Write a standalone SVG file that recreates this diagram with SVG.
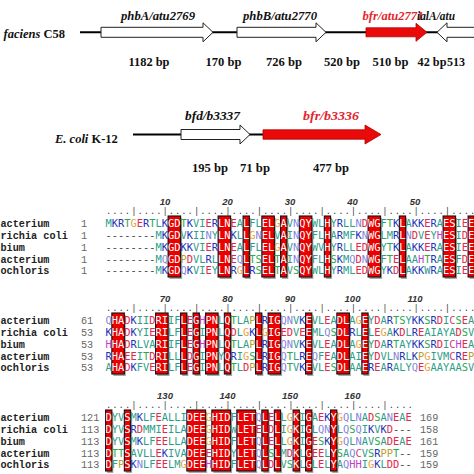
<svg xmlns="http://www.w3.org/2000/svg" width="474" height="474" viewBox="0 0 474 474">
<style>
.gn{font-family:"Liberation Serif",serif;font-weight:bold;font-style:italic;font-size:12px;text-anchor:middle;fill:#111}
.bp{font-family:"Liberation Serif",serif;font-weight:bold;font-size:12px;text-anchor:middle;fill:#111}
.org{font-family:"Liberation Serif",serif;font-weight:bold;font-size:12.5px;fill:#111}
.red{fill:#e3262e}
.ln{stroke:#000;stroke-width:2;fill:none}
.wa{fill:#fff;stroke:#222;stroke-width:1}
.ra{fill:#ea0a0a;stroke:#b00000;stroke-width:0.8}
.nm{font-family:"Liberation Mono",monospace;font-weight:bold;font-size:10.2px;fill:#222}
.nu{font-family:"Liberation Mono",monospace;font-size:10.2px;fill:#666}
.sq{font-family:"DejaVu Sans Mono",monospace;font-size:10.38px;fill:#2e9e88}
.ru{font-family:"DejaVu Sans Mono",monospace;font-size:8px;fill:#333}
.rn{font-family:"Liberation Sans",sans-serif;font-weight:bold;font-style:italic;font-size:9.5px;fill:#333;text-anchor:middle}
.b{fill:#2332b8}.r{fill:#e3284a}.m{fill:#c03ec8}.o{fill:#eaa23c}.y{fill:#b8a030}.v{fill:#8585dd}.g{fill:#2aa84a}.c{fill:#d0407a}.x{fill:#444}.w{fill:#fff}
</style>
<defs>
<g id="bx1">
<rect x="168.1" y="216" width="12.5" height="61"/><rect x="218.1" y="216" width="12.5" height="61"/><rect x="243.1" y="216" width="6.25" height="61"/><rect x="261.85" y="216" width="12.5" height="61"/><rect x="280.6" y="216" width="6.25" height="61"/><rect x="299.35" y="216" width="12.5" height="61"/><rect x="324.35" y="216" width="6.25" height="61"/><rect x="368.1" y="216" width="12.5" height="61"/><rect x="399.35" y="216" width="6.25" height="61"/><rect x="443.1" y="216" width="12.5" height="61"/><rect x="468.1" y="216" width="6.25" height="61"/>
</g>
<g id="bx2">
<rect x="111.85" y="313" width="12.5" height="61"/><rect x="155.6" y="313" width="12.5" height="61"/><rect x="180.6" y="313" width="6.25" height="61"/><rect x="193.1" y="313" width="6.25" height="61"/><rect x="205.6" y="313" width="12.5" height="61"/><rect x="224.35" y="313" width="6.25" height="61"/><rect x="255.6" y="313" width="6.25" height="61"/><rect x="268.1" y="313" width="12.5" height="61"/><rect x="305.6" y="313" width="6.25" height="61"/><rect x="336.85" y="313" width="12.5" height="61"/><rect x="361.85" y="313" width="6.25" height="61"/>
</g>
<g id="bx3">
<rect x="105.6" y="410" width="6.25" height="61"/><rect x="124.35" y="410" width="6.25" height="61"/><rect x="186.85" y="410" width="18.75" height="61"/><rect x="211.85" y="410" width="18.75" height="61"/><rect x="236.85" y="410" width="18.75" height="61"/><rect x="261.85" y="410" width="6.25" height="61"/><rect x="274.35" y="410" width="6.25" height="61"/><rect x="293.1" y="410" width="6.25" height="61"/><rect x="305.6" y="410" width="6.25" height="61"/><rect x="330.6" y="410" width="6.25" height="61"/>
</g>
</defs>
<rect width="474" height="474" fill="#fff"/>

<!-- Gene map: A. tumefaciens -->
<g id="map1">
<line class="ln" x1="80" y1="32.3" x2="474" y2="32.3"/>
<path class="wa" d="M101,27.3H203V22.8L213,32.3L203,41.8V37.3H101Z"/>
<path class="wa" d="M237,27.3H316V22.8L326,32.3L316,41.8V37.3H237Z"/>
<path class="ra" d="M366,27.8H416V23.3L427,32.3L416,41.3V36.8H366Z"/>
<path class="wa" d="M437,32.3L447,22.8V27.3H480V37.3H447V41.8Z"/>
<text class="org" x="65" y="38.3" text-anchor="end"><tspan font-style="italic">faciens</tspan> C58</text>
<text class="gn" x="158" y="19.5" textLength="74" lengthAdjust="spacingAndGlyphs">phbA/atu2769</text>
<text class="gn" x="280" y="19.5" textLength="74" lengthAdjust="spacingAndGlyphs">phbB/atu2770</text>
<text class="gn red" x="393" y="19.5" textLength="61" lengthAdjust="spacingAndGlyphs">bfr/atu2771</text>
<text class="gn" x="436" y="19.5" text-anchor="start" textLength="38" lengthAdjust="spacingAndGlyphs">ialA/atu</text>
<text class="bp" x="149" y="65.5" textLength="41" lengthAdjust="spacingAndGlyphs">1182 bp</text>
<text class="bp" x="223.5" y="65.5" textLength="36" lengthAdjust="spacingAndGlyphs">170 bp</text>
<text class="bp" x="284" y="65.5" textLength="36" lengthAdjust="spacingAndGlyphs">726 bp</text>
<text class="bp" x="342" y="65.5" textLength="36" lengthAdjust="spacingAndGlyphs">520 bp</text>
<text class="bp" x="390.5" y="65.5" textLength="36" lengthAdjust="spacingAndGlyphs">510 bp</text>
<text class="bp" x="432" y="65.5" textLength="29" lengthAdjust="spacingAndGlyphs">42 bp</text>
<text class="bp" x="456" y="65.5" text-anchor="start" textLength="18" lengthAdjust="spacingAndGlyphs">513</text>
</g>

<!-- Gene map: E. coli -->
<g id="map2">
<line class="ln" x1="133" y1="134.5" x2="375" y2="134.5"/>
<path class="wa" d="M181,129.5H240V125L250,134.5L240,144V139.5H181Z"/>
<path class="ra" d="M263,129.8H365V125L381,134.5L365,144V139.2H263Z"/>
<text class="org" x="55" y="143"><tspan font-style="italic">E. coli</tspan> K-12</text>
<text class="gn" x="212.5" y="120" textLength="55" lengthAdjust="spacingAndGlyphs">bfd/b3337</text>
<text class="gn red" x="331" y="120" textLength="56" lengthAdjust="spacingAndGlyphs">bfr/b3336</text>
<text class="bp" x="210" y="171.5" textLength="36" lengthAdjust="spacingAndGlyphs">195 bp</text>
<text class="bp" x="255" y="171.5" textLength="30" lengthAdjust="spacingAndGlyphs">71 bp</text>
<text class="bp" x="331" y="171.5" textLength="36" lengthAdjust="spacingAndGlyphs">477 bp</text>
</g>

<!-- identity boxes -->
<g id="boxes">
<use href="#bx1" fill="#aaa" transform="translate(1.5,2)"/>
<use href="#bx2" fill="#aaa" transform="translate(1.5,2)"/>
<use href="#bx3" fill="#aaa" transform="translate(1.5,2)"/>
<use href="#bx1" fill="#ea0000" stroke="#111" stroke-width="1.1"/>
<use href="#bx2" fill="#ea0000" stroke="#111" stroke-width="1.1"/>
<use href="#bx3" fill="#ea0000" stroke="#111" stroke-width="1.1"/>
</g>

<!-- Block 1 -->
<g id="block1">
<text class="rn" x="165" y="205">10</text><text class="rn" x="227.5" y="205">20</text><text class="rn" x="290" y="205">30</text><text class="rn" x="352.5" y="205">40</text><text class="rn" x="415" y="205">50</text>
<text class="ru" x="106.3" y="214" textLength="368.75" lengthAdjust="spacing">....|....|....|....|....|....|....|....|....|....|....|....</text>
<text class="nm" x="0.5" y="226.8">acterium</text><text class="nm" x="0.5" y="238.7">richia coli</text><text class="nm" x="0.5" y="250.6">bium</text><text class="nm" x="0.5" y="262.5">acterium</text><text class="nm" x="0.5" y="274.4">ochloris</text>
<text class="nu" x="81" y="226.8">1</text><text class="nu" x="81" y="238.7">1</text><text class="nu" x="81" y="250.6">1</text><text class="nu" x="81" y="262.5">1</text><text class="nu" x="81" y="274.4">1</text>
<text class="sq" x="105.6" y="226.8" textLength="368.75" lengthAdjust="spacing">M<tspan class="b">KR</tspan><tspan class="g">T</tspan><tspan class="o">G</tspan><tspan class="r">E</tspan><tspan class="b">R</tspan><tspan class="g">T</tspan>L<tspan class="b">K</tspan><tspan class="w">GD</tspan><tspan class="g">T</tspan><tspan class="b">K</tspan>VI<tspan class="r">E</tspan><tspan class="b">R</tspan><tspan class="w">LN</tspan><tspan class="r">E</tspan>A<tspan class="w">L</tspan>FL<tspan class="w">EL</tspan><tspan class="o">G</tspan><tspan class="w">A</tspan>V<tspan class="v">N</tspan><tspan class="w">QY</tspan>WL<tspan class="w">H</tspan>Y<tspan class="b">R</tspan>LL<tspan class="v">N</tspan><tspan class="r">D</tspan><tspan class="w">WG</tspan>F<tspan class="g">T</tspan><tspan class="b">K</tspan><tspan class="w">L</tspan>A<tspan class="b">KK</tspan><tspan class="r">E</tspan><tspan class="b">R</tspan>A<tspan class="w">ES</tspan>I<tspan class="r">E</tspan><tspan class="w">E</tspan></text>
<text class="sq" x="105.6" y="238.7" textLength="368.75" lengthAdjust="spacing"><tspan class="x">--------</tspan>M<tspan class="b">K</tspan><tspan class="w">GD</tspan>V<tspan class="b">K</tspan>II<tspan class="v">N</tspan>Y<tspan class="w">LN</tspan><tspan class="b">K</tspan>L<tspan class="w">L</tspan><tspan class="o">G</tspan><tspan class="v">N</tspan><tspan class="w">EL</tspan>V<tspan class="w">A</tspan>I<tspan class="v">N</tspan><tspan class="w">QY</tspan>FL<tspan class="w">H</tspan>A<tspan class="b">R</tspan>MF<tspan class="b">K</tspan><tspan class="v">N</tspan><tspan class="w">WG</tspan>LM<tspan class="b">R</tspan><tspan class="w">L</tspan><tspan class="v">N</tspan><tspan class="r">D</tspan>V<tspan class="r">E</tspan>Y<tspan class="m">H</tspan><tspan class="w">ES</tspan>I<tspan class="r">D</tspan><tspan class="w">E</tspan></text>
<text class="sq" x="105.6" y="250.6" textLength="368.75" lengthAdjust="spacing"><tspan class="x">--------</tspan>M<tspan class="b">K</tspan><tspan class="w">GD</tspan><tspan class="b">KK</tspan>VI<tspan class="r">E</tspan><tspan class="b">R</tspan><tspan class="w">LN</tspan><tspan class="r">E</tspan>A<tspan class="w">L</tspan>FL<tspan class="w">EL</tspan><tspan class="o">G</tspan><tspan class="w">A</tspan>V<tspan class="v">N</tspan><tspan class="w">QY</tspan>WV<tspan class="w">H</tspan>Y<tspan class="b">R</tspan>LL<tspan class="r">ED</tspan><tspan class="w">WG</tspan>Y<tspan class="g">T</tspan><tspan class="b">K</tspan><tspan class="w">L</tspan>A<tspan class="b">KK</tspan><tspan class="r">E</tspan><tspan class="b">R</tspan>A<tspan class="w">ES</tspan>I<tspan class="r">E</tspan><tspan class="w">E</tspan></text>
<text class="sq" x="105.6" y="262.5" textLength="368.75" lengthAdjust="spacing"><tspan class="x">--------</tspan>M<tspan class="v">Q</tspan><tspan class="w">GD</tspan><tspan class="y">P</tspan><tspan class="r">D</tspan>VL<tspan class="b">R</tspan>L<tspan class="w">LN</tspan><tspan class="r">E</tspan><tspan class="v">Q</tspan><tspan class="w">L</tspan><tspan class="g">TS</tspan><tspan class="w">EL</tspan><tspan class="g">T</tspan><tspan class="w">A</tspan>I<tspan class="v">N</tspan><tspan class="w">QY</tspan>FL<tspan class="w">H</tspan><tspan class="g">S</tspan><tspan class="b">K</tspan>M<tspan class="v">Q</tspan><tspan class="r">D</tspan><tspan class="v">N</tspan><tspan class="w">WG</tspan>F<tspan class="g">T</tspan><tspan class="r">E</tspan><tspan class="w">L</tspan>AA<tspan class="m">H</tspan><tspan class="g">T</tspan><tspan class="b">R</tspan>A<tspan class="w">ES</tspan>F<tspan class="r">D</tspan><tspan class="w">E</tspan></text>
<text class="sq" x="105.6" y="274.4" textLength="368.75" lengthAdjust="spacing"><tspan class="x">--------</tspan>M<tspan class="b">K</tspan><tspan class="w">GD</tspan><tspan class="v">Q</tspan><tspan class="b">K</tspan>VI<tspan class="r">E</tspan>Y<tspan class="w">LN</tspan><tspan class="b">R</tspan><tspan class="o">G</tspan><tspan class="w">L</tspan><tspan class="b">R</tspan><tspan class="g">S</tspan><tspan class="w">EL</tspan><tspan class="g">T</tspan><tspan class="w">A</tspan>V<tspan class="g">S</tspan><tspan class="w">QY</tspan>WL<tspan class="w">H</tspan>Y<tspan class="b">R</tspan>ML<tspan class="r">ED</tspan><tspan class="w">WG</tspan>Y<tspan class="b">K</tspan><tspan class="r">D</tspan><tspan class="w">L</tspan>A<tspan class="b">KK</tspan>W<tspan class="b">R</tspan>A<tspan class="w">ES</tspan>I<tspan class="r">E</tspan><tspan class="w">E</tspan></text>
</g>

<!-- Block 2 -->
<g id="block2">
<text class="rn" x="165" y="302">70</text><text class="rn" x="227.5" y="302">80</text><text class="rn" x="290" y="302">90</text><text class="rn" x="352.5" y="302">100</text><text class="rn" x="415" y="302">110</text>
<text class="ru" x="106.3" y="311" textLength="368.75" lengthAdjust="spacing">....|....|....|....|....|....|....|....|....|....|....|....</text>
<text class="nm" x="0.5" y="323.8">acterium</text><text class="nm" x="0.5" y="335.7">richia coli</text><text class="nm" x="0.5" y="347.6">bium</text><text class="nm" x="0.5" y="359.5">acterium</text><text class="nm" x="0.5" y="371.4">ochloris</text>
<text class="nu" x="81" y="323.8">61</text><text class="nu" x="81" y="335.7">53</text><text class="nu" x="81" y="347.6">53</text><text class="nu" x="81" y="359.5">53</text><text class="nu" x="81" y="371.4">53</text>
<text class="sq" x="105.6" y="323.8" textLength="368.75" lengthAdjust="spacing"><tspan class="v">Q</tspan><tspan class="w">HA</tspan><tspan class="r">D</tspan><tspan class="b">K</tspan>II<tspan class="r">D</tspan><tspan class="w">RI</tspan>IF<tspan class="w">L</tspan><tspan class="r">E</tspan><tspan class="w">G</tspan><tspan class="m">H</tspan><tspan class="w">PN</tspan>L<tspan class="w">Q</tspan><tspan class="g">T</tspan>LA<tspan class="y">P</tspan><tspan class="w">L</tspan><tspan class="b">R</tspan><tspan class="w">IG</tspan><tspan class="v">QN</tspan>V<tspan class="b">K</tspan><tspan class="w">E</tspan>VL<tspan class="r">E</tspan>A<tspan class="w">DL</tspan>A<tspan class="o">G</tspan><tspan class="w">E</tspan>Y<tspan class="r">D</tspan>A<tspan class="b">R</tspan><tspan class="g">TS</tspan>Y<tspan class="b">KK</tspan><tspan class="g">S</tspan><tspan class="b">R</tspan><tspan class="r">D</tspan>I<tspan class="c">C</tspan><tspan class="g">S</tspan><tspan class="r">E</tspan>A</text>
<text class="sq" x="105.6" y="335.7" textLength="368.75" lengthAdjust="spacing"><tspan class="b">K</tspan><tspan class="w">HA</tspan><tspan class="r">D</tspan><tspan class="b">K</tspan>YI<tspan class="r">E</tspan><tspan class="w">RI</tspan>LF<tspan class="w">L</tspan><tspan class="r">E</tspan><tspan class="w">G</tspan>I<tspan class="w">PN</tspan>L<tspan class="w">Q</tspan><tspan class="r">D</tspan>L<tspan class="o">G</tspan><tspan class="b">K</tspan><tspan class="w">L</tspan><tspan class="o">G</tspan><tspan class="w">IG</tspan><tspan class="r">ED</tspan>V<tspan class="r">E</tspan><tspan class="w">E</tspan>ML<tspan class="v">Q</tspan><tspan class="g">S</tspan><tspan class="w">DL</tspan><tspan class="b">R</tspan>L<tspan class="w">E</tspan>L<tspan class="r">E</tspan><tspan class="o">G</tspan>A<tspan class="b">K</tspan><tspan class="r">D</tspan>L<tspan class="b">R</tspan><tspan class="r">E</tspan>AIAYA<tspan class="r">D</tspan><tspan class="g">S</tspan>V</text>
<text class="sq" x="105.6" y="347.6" textLength="368.75" lengthAdjust="spacing"><tspan class="m">H</tspan><tspan class="w">HA</tspan><tspan class="r">D</tspan><tspan class="b">R</tspan>LVA<tspan class="w">RI</tspan>IF<tspan class="w">L</tspan><tspan class="r">E</tspan><tspan class="w">G</tspan><tspan class="m">H</tspan><tspan class="w">PN</tspan>L<tspan class="w">Q</tspan><tspan class="g">T</tspan>LA<tspan class="y">P</tspan><tspan class="w">L</tspan><tspan class="b">R</tspan><tspan class="w">IG</tspan><tspan class="v">QN</tspan>V<tspan class="b">K</tspan><tspan class="w">E</tspan>VL<tspan class="r">E</tspan>A<tspan class="w">DL</tspan>A<tspan class="o">G</tspan><tspan class="w">E</tspan>Y<tspan class="r">D</tspan>A<tspan class="b">R</tspan><tspan class="g">T</tspan>AY<tspan class="b">KK</tspan><tspan class="g">S</tspan><tspan class="b">R</tspan><tspan class="r">D</tspan>I<tspan class="c">C</tspan><tspan class="m">H</tspan><tspan class="r">E</tspan>A</text>
<text class="sq" x="105.6" y="359.5" textLength="368.75" lengthAdjust="spacing"><tspan class="b">R</tspan><tspan class="w">HA</tspan><tspan class="r">EE</tspan>I<tspan class="g">T</tspan><tspan class="r">D</tspan><tspan class="w">RI</tspan>LL<tspan class="w">L</tspan><tspan class="r">D</tspan><tspan class="w">G</tspan>I<tspan class="w">PN</tspan>Y<tspan class="w">Q</tspan><tspan class="b">R</tspan>I<tspan class="o">G</tspan><tspan class="g">S</tspan><tspan class="w">L</tspan><tspan class="b">R</tspan><tspan class="w">IG</tspan><tspan class="v">Q</tspan><tspan class="g">T</tspan>L<tspan class="b">R</tspan><tspan class="w">E</tspan><tspan class="v">Q</tspan>F<tspan class="r">E</tspan>A<tspan class="w">DL</tspan>AI<tspan class="w">E</tspan>Y<tspan class="r">D</tspan>VL<tspan class="v">N</tspan><tspan class="b">R</tspan>L<tspan class="b">K</tspan><tspan class="y">P</tspan><tspan class="o">G</tspan>IVM<tspan class="c">C</tspan><tspan class="b">R</tspan><tspan class="r">E</tspan><tspan class="y">P</tspan></text>
<text class="sq" x="105.6" y="371.4" textLength="368.75" lengthAdjust="spacing">A<tspan class="w">HA</tspan><tspan class="r">D</tspan><tspan class="b">K</tspan>FV<tspan class="r">E</tspan><tspan class="w">RI</tspan>LF<tspan class="w">L</tspan><tspan class="r">E</tspan><tspan class="w">G</tspan>I<tspan class="w">PN</tspan>L<tspan class="w">Q</tspan><tspan class="g">T</tspan>L<tspan class="r">D</tspan><tspan class="y">P</tspan><tspan class="w">L</tspan><tspan class="b">R</tspan><tspan class="w">IG</tspan><tspan class="v">Q</tspan><tspan class="g">T</tspan>V<tspan class="b">K</tspan><tspan class="w">E</tspan>VL<tspan class="r">E</tspan><tspan class="g">S</tspan><tspan class="w">DL</tspan>AA<tspan class="w">E</tspan><tspan class="b">R</tspan><tspan class="r">E</tspan>A<tspan class="b">R</tspan>ALY<tspan class="v">Q</tspan><tspan class="r">E</tspan><tspan class="o">G</tspan>AAYAA<tspan class="g">S</tspan>V</text>
</g>

<!-- Block 3 -->
<g id="block3">
<text class="rn" x="165" y="399">130</text><text class="rn" x="227.5" y="399">140</text><text class="rn" x="290" y="399">150</text><text class="rn" x="352.5" y="399">160</text>
<text class="ru" x="106.3" y="408" textLength="306.25" lengthAdjust="spacing">....|....|....|....|....|....|....|....|....|....</text>
<text class="nm" x="0.5" y="420.8">acterium</text><text class="nm" x="0.5" y="432.7">richia coli</text><text class="nm" x="0.5" y="444.6">bium</text><text class="nm" x="0.5" y="456.5">acterium</text><text class="nm" x="0.5" y="468.4">ochloris</text>
<text class="nu" x="81" y="420.8">121</text><text class="nu" x="81" y="432.7">113</text><text class="nu" x="81" y="444.6">113</text><text class="nu" x="81" y="456.5">113</text><text class="nu" x="81" y="468.4">113</text>
<text class="sq" x="105.6" y="420.8" textLength="306.25" lengthAdjust="spacing"><tspan class="w">D</tspan>YV<tspan class="w">S</tspan>M<tspan class="b">K</tspan>LF<tspan class="r">E</tspan>ALLI<tspan class="w">DEE</tspan><tspan class="o">G</tspan><tspan class="w">HID</tspan>F<tspan class="w">LET</tspan><tspan class="v">Q</tspan><tspan class="w">L</tspan><tspan class="r">E</tspan><tspan class="w">L</tspan>L<tspan class="o">G</tspan><tspan class="w">K</tspan>I<tspan class="w">G</tspan>A<tspan class="r">E</tspan><tspan class="b">K</tspan><tspan class="w">Y</tspan><tspan class="o">G</tspan><tspan class="v">Q</tspan>L<tspan class="v">N</tspan>A<tspan class="r">D</tspan><tspan class="g">S</tspan>A<tspan class="v">N</tspan><tspan class="r">E</tspan>A<tspan class="r">E</tspan></text>
<text class="sq" x="105.6" y="432.7" textLength="306.25" lengthAdjust="spacing"><tspan class="w">D</tspan>YV<tspan class="w">S</tspan><tspan class="b">R</tspan><tspan class="r">D</tspan>MMI<tspan class="r">E</tspan>ILA<tspan class="w">DEE</tspan><tspan class="o">G</tspan><tspan class="w">HID</tspan>W<tspan class="w">LET</tspan><tspan class="r">E</tspan><tspan class="w">L</tspan><tspan class="r">D</tspan><tspan class="w">L</tspan>I<tspan class="o">G</tspan><tspan class="w">K</tspan>I<tspan class="w">G</tspan>L<tspan class="v">QN</tspan><tspan class="w">Y</tspan>L<tspan class="v">Q</tspan><tspan class="g">S</tspan><tspan class="v">Q</tspan>I<tspan class="b">K</tspan>V<tspan class="b">K</tspan><tspan class="r">D</tspan><tspan class="x">---</tspan></text>
<text class="sq" x="105.6" y="444.6" textLength="306.25" lengthAdjust="spacing"><tspan class="w">D</tspan>YV<tspan class="w">S</tspan>M<tspan class="b">K</tspan>LF<tspan class="r">EE</tspan>LLA<tspan class="w">DEE</tspan><tspan class="o">G</tspan><tspan class="w">HID</tspan>F<tspan class="w">LET</tspan><tspan class="v">Q</tspan><tspan class="w">L</tspan><tspan class="r">E</tspan><tspan class="w">L</tspan>L<tspan class="o">G</tspan><tspan class="w">K</tspan>I<tspan class="w">G</tspan><tspan class="r">E</tspan><tspan class="g">S</tspan><tspan class="b">K</tspan><tspan class="w">Y</tspan><tspan class="o">G</tspan><tspan class="v">Q</tspan>L<tspan class="v">N</tspan>AV<tspan class="g">S</tspan>A<tspan class="r">DE</tspan>A<tspan class="r">E</tspan></text>
<text class="sq" x="105.6" y="456.5" textLength="306.25" lengthAdjust="spacing"><tspan class="w">D</tspan><tspan class="g">TT</tspan><tspan class="w">S</tspan>AVLL<tspan class="r">E</tspan><tspan class="b">K</tspan>IVA<tspan class="w">DEE</tspan><tspan class="r">E</tspan><tspan class="w">HID</tspan>Y<tspan class="w">LET</tspan><tspan class="v">Q</tspan><tspan class="w">L</tspan><tspan class="g">S</tspan><tspan class="w">L</tspan>M<tspan class="r">D</tspan><tspan class="w">K</tspan>L<tspan class="w">G</tspan><tspan class="r">EE</tspan>L<tspan class="w">Y</tspan><tspan class="g">S</tspan>A<tspan class="v">Q</tspan><tspan class="c">C</tspan>V<tspan class="g">S</tspan><tspan class="b">R</tspan><tspan class="y">PP</tspan><tspan class="g">T</tspan><tspan class="x">--</tspan></text>
<text class="sq" x="105.6" y="468.4" textLength="306.25" lengthAdjust="spacing"><tspan class="w">D</tspan>F<tspan class="y">P</tspan><tspan class="w">S</tspan><tspan class="b">K</tspan><tspan class="v">N</tspan>LF<tspan class="r">EE</tspan>LM<tspan class="o">G</tspan><tspan class="w">DEE</tspan><tspan class="m">H</tspan><tspan class="w">HID</tspan>F<tspan class="w">LET</tspan><tspan class="v">Q</tspan><tspan class="w">L</tspan><tspan class="r">D</tspan><tspan class="w">L</tspan>V<tspan class="g">S</tspan><tspan class="w">K</tspan>L<tspan class="w">G</tspan>L<tspan class="r">E</tspan>L<tspan class="w">Y</tspan>A<tspan class="v">Q</tspan><tspan class="m">HH</tspan>I<tspan class="o">G</tspan><tspan class="b">K</tspan>L<tspan class="r">DD</tspan><tspan class="x">--</tspan></text>
<text class="nu" x="420" y="420.8">169</text><text class="nu" x="420" y="432.7">158</text><text class="nu" x="420" y="444.6">161</text><text class="nu" x="420" y="456.5">159</text><text class="nu" x="420" y="468.4">159</text>
</g>
</svg>
